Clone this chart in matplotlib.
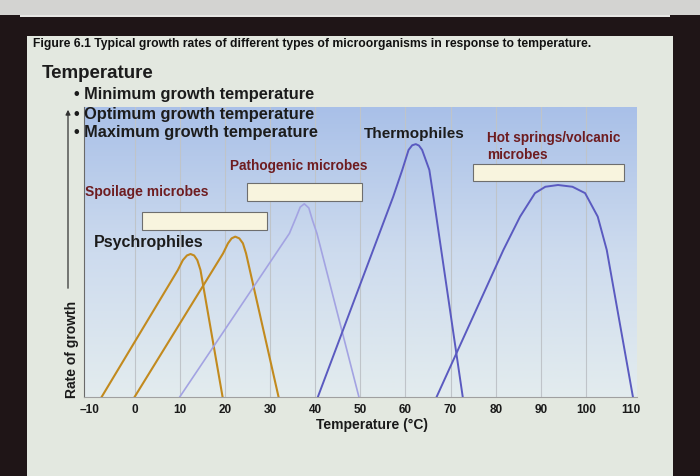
import numpy as np
import matplotlib.pyplot as plt
from matplotlib.patches import Rectangle, FancyArrowPatch
from matplotlib.colors import LinearSegmentedColormap

# Growth curves: temperature (°C) vs rate of growth (% of axis height)
psychro_temp = [-7.3, 9.6, 10.7, 11.6, 12.4, 13.2, 13.9, 14.6, 19.5]
psychro_rate = [0, 43.8, 47.2, 48.8, 49.3, 48.8, 47.2, 43.8, 0]

spoilage_temp = [0, 19.6, 20.7, 21.5, 22.3, 23.2, 24.0, 24.7, 31.9]
spoilage_rate = [0, 49.5, 53.0, 54.7, 55.3, 54.7, 53.0, 49.5, 0]

pathogen_temp = [10, 34.3, 35.8, 36.7, 37.6, 38.6, 39.4, 40.4, 49.7]
pathogen_rate = [0, 56.4, 62.0, 65.5, 66.6, 65.2, 61.0, 56.4, 0]

thermo_temp = [40.6, 57.3, 59.3, 60.7, 61.5, 62.3, 63.0, 63.7, 65.3, 66.2, 72.7]
thermo_rate = [0, 69.1, 78.3, 85.2, 86.8, 87.2, 86.7, 85.2, 78.3, 69.1, 0]

hot_temp = [66.9, 81.7, 85.4, 88.7, 91.0, 93.8, 97.0, 99.8, 102.6, 104.6, 110.4]
hot_rate = [0, 50.7, 62.2, 70.3, 72.5, 73.1, 72.5, 70.3, 62.2, 50.7, 0]

x_ticks = [-10, 0, 10, 20, 30, 40, 50, 60, 70, 80, 90, 100, 110]
x_tick_labels = ['–10', '0', '10', '20', '30', '40', '50', '60', '70', '80', '90', '100', '110']
grid_temps = [0, 10, 20, 30, 40, 50, 60, 70, 80, 90, 100]

bullets = ['Minimum growth temperature', 'Optimum growth temperature', 'Maximum growth temperature']

W, H = 700, 476
SANS = ['Liberation Sans', 'DejaVu Sans']


def fx(x):
    return x / W


def fy(y):
    return 1 - y / H


fig = plt.figure(figsize=(7, 4.76), dpi=100)
fig.patch.set_facecolor('#1f1517')

# photo frame: grey strip on top, dark band, then the slide
fig.add_artist(Rectangle((0, fy(15)), 1, 15 / H, transform=fig.transFigure,
                         facecolor='#d3d3d1', edgecolor='none', zorder=-5))
fig.add_artist(Rectangle((fx(20), fy(17)), fx(650), 2 / H, transform=fig.transFigure,
                         facecolor='#e6e6e4', edgecolor='none', zorder=-5))
fig.add_artist(Rectangle((fx(27), 0), fx(673 - 27), fy(36), transform=fig.transFigure,
                         facecolor='#e3e8e0', edgecolor='none', zorder=-5))

# plot area
ax = fig.add_axes([fx(84), fy(397), fx(637 - 84), (397 - 107) / H])
ax.set_xlim(-11.2, 111.3)
ax.set_ylim(0, 100)

grad = np.linspace(0, 1, 256).reshape(-1, 1)
bg_cmap = LinearSegmentedColormap.from_list('bg', ['#e3ecee', '#cddbee', '#a9c0e8'])
ax.imshow(grad, cmap=bg_cmap, origin='lower', aspect='auto',
          extent=(-11.2, 111.3, 0, 100), zorder=0)

for t in grid_temps:
    ax.axvline(t, color='#bfc4c9', lw=0.8, zorder=1)

gold = '#c28a1e'
ax.plot(psychro_temp, psychro_rate, color=gold, lw=1.5, zorder=3)
ax.plot(spoilage_temp, spoilage_rate, color=gold, lw=1.5, zorder=3)
ax.plot(pathogen_temp, pathogen_rate, color='#a3a3e2', lw=1.2, zorder=3)
ax.plot(thermo_temp, thermo_rate, color='#5a5ac0', lw=1.4, zorder=3)
ax.plot(hot_temp, hot_rate, color='#5a5ac0', lw=1.4, zorder=3)

ax.set_xticks(x_ticks)
ax.set_xticklabels(x_tick_labels, fontsize=8.5, fontweight='bold', family=SANS, color='#1a1a1a')
ax.tick_params(axis='x', length=0, pad=5)
ax.set_yticks([])
for side in ['top', 'right']:
    ax.spines[side].set_visible(False)
ax.spines['left'].set_color('#6a6a6a')
ax.spines['bottom'].set_color('#a0a0a0')

fig.text(fx(372), fy(425), 'Temperature (°C)', ha='center', va='center',
         fontsize=10, fontweight='bold', family=SANS, color='#1a1a1a')

# y axis label with arrow
fig.text(fx(72), fy(349), 'Rate of growth', ha='center', va='center', rotation=90,
         fontsize=10, fontweight='bold', family=SANS, color='#1a1a1a')
fig.add_artist(FancyArrowPatch((fx(68), fy(291)), (fx(68), fy(107)), transform=fig.transFigure,
                               arrowstyle='-|>', mutation_scale=7, lw=0.9, color='#333333'))

# slide text
fig.text(fx(33), fy(44), 'Figure 6.1 Typical growth rates of different types of microorganisms in response to temperature.',
         ha='left', va='center', fontsize=8.7, fontweight='bold', family=SANS, color='#111111')
fig.text(fx(42), fy(74), 'Temperature', ha='left', va='center',
         fontsize=13.5, fontweight='bold', family=SANS, color='#1c1c1c')
for i, b in enumerate(bullets):
    fig.text(fx(74), fy(95 + 19 * i), '• ' + b, ha='left', va='center',
             fontsize=11.8, fontweight='bold', family=SANS, color='#1c1c1c', zorder=6)

dark_red = '#6e1c20'
fig.text(fx(364), fy(134), 'Thermophiles', ha='left', va='center',
         fontsize=11, fontweight='bold', family=SANS, color='#1c1c1c')
fig.text(fx(487), fy(138), 'Hot springs/volcanic', ha='left', va='center',
         fontsize=9.8, fontweight='bold', family=SANS, color=dark_red)
fig.text(fx(487), fy(155), 'microbes', ha='left', va='center',
         fontsize=9.8, fontweight='bold', family=SANS, color=dark_red)
fig.text(fx(230), fy(166), 'Pathogenic microbes', ha='left', va='center',
         fontsize=9.8, fontweight='bold', family=SANS, color=dark_red)
fig.text(fx(85), fy(192), 'Spoilage microbes', ha='left', va='center',
         fontsize=10, fontweight='bold', family=SANS, color=dark_red)
fig.text(fx(94), fy(242), 'Psychrophiles', ha='left', va='center',
         fontsize=11.5, fontweight='bold', family=SANS, color='#1c1c1c')

# empty label boxes
for x0, y0, x1, y1 in [(142, 212, 267, 230), (247, 183, 362, 201), (473, 164, 624, 181)]:
    fig.add_artist(Rectangle((fx(x0), fy(y1)), fx(x1 - x0), (y1 - y0) / H, transform=fig.transFigure,
                             facecolor='#f8f4de', edgecolor='#6e6e6e', lw=0.8, zorder=5))

fig.savefig('out.png', dpi=100)
